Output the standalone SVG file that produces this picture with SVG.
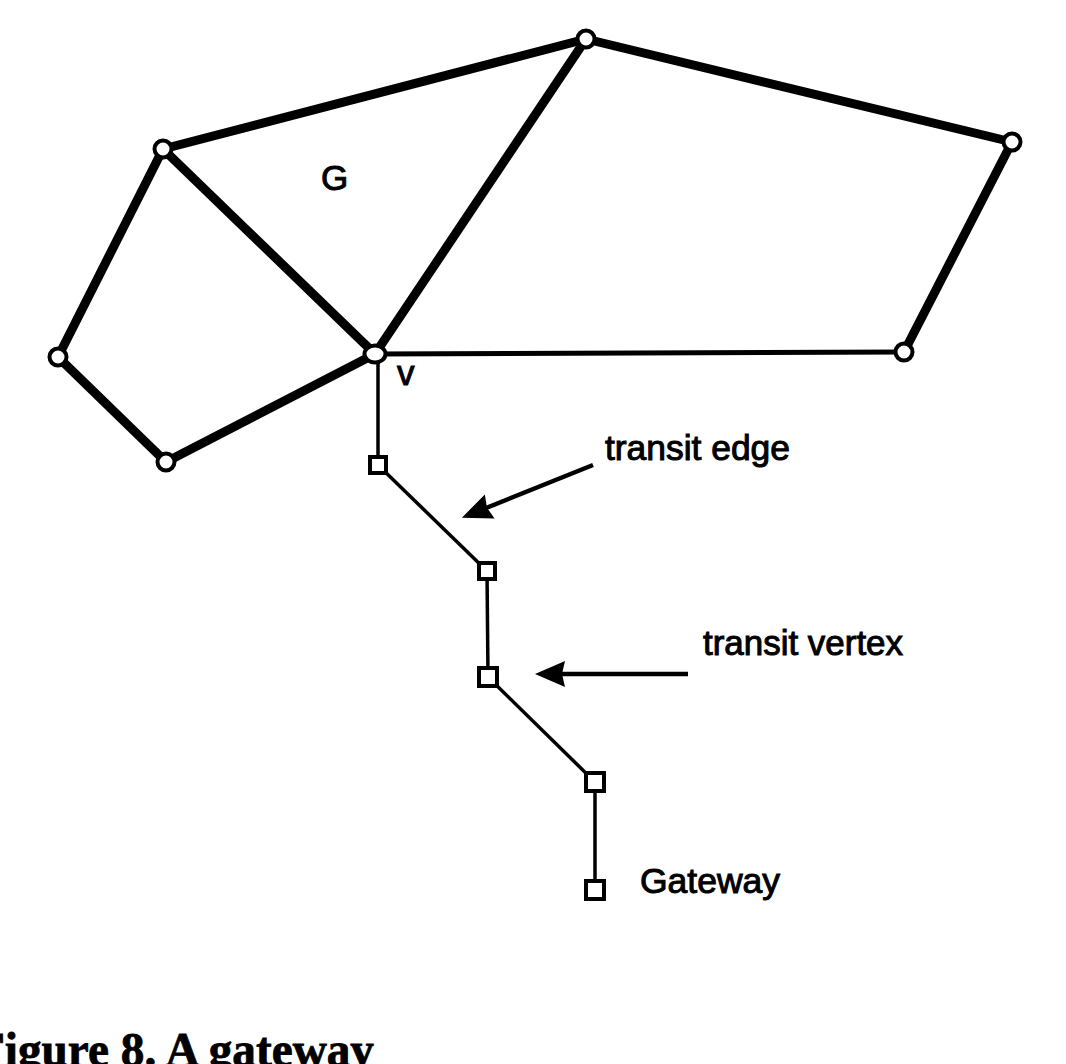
<svg xmlns="http://www.w3.org/2000/svg" width="1066" height="1064" viewBox="0 0 1066 1064">
<style>
.bg{fill:#fff}
.thick{stroke:#000;stroke-width:9;stroke-linecap:round;fill:none}
.med{stroke:#000;stroke-width:5;stroke-linecap:round;fill:none}
.thin{stroke:#000;stroke-width:3.5;fill:none}
.arrow{stroke:#000;stroke-width:4.5;fill:none}
.vtx{fill:#fff;stroke:#000;stroke-width:4}
.sq{fill:#fff;stroke:#000;stroke-width:4}
.lbl{font-family:"Liberation Sans",Arial,sans-serif;font-size:35px;fill:#000;stroke:#000;stroke-width:1}
.cap{font-family:"Liberation Serif","Times New Roman",serif;font-size:48px;font-weight:bold;fill:#000;stroke:#000;stroke-width:0.8}
</style>
<defs>
<marker id="head" markerUnits="userSpaceOnUse" markerWidth="34" markerHeight="28" refX="4" refY="13" orient="auto" viewBox="0 0 34 28">
<path d="M0,0 L30,13 L0,26 L3,13 z" fill="#000"/>
</marker>
</defs>
<rect class="bg" x="0" y="0" width="1066" height="1064"/>
<g id="connectors">
<line class="thick" x1="586" y1="39" x2="163" y2="149"/>
<line class="thick" x1="586" y1="39" x2="1012" y2="142"/>
<line class="thick" x1="586" y1="39" x2="375" y2="354"/>
<line class="thick" x1="163" y1="149" x2="375" y2="354"/>
<line class="thick" x1="163" y1="149" x2="58" y2="357"/>
<line class="thick" x1="58" y1="357" x2="166" y2="462"/>
<line class="thick" x1="166" y1="462" x2="375" y2="354"/>
<line class="thick" x1="1012" y1="142" x2="904" y2="352"/>
<line class="med" x1="375" y1="354" x2="904" y2="352"/>
<line class="thin" x1="378" y1="360" x2="378" y2="465"/>
<line class="thin" x1="378" y1="465" x2="487" y2="571"/>
<line class="thin" x1="487" y1="571" x2="488" y2="677"/>
<line class="thin" x1="488" y1="677" x2="595" y2="782"/>
<line class="thin" x1="595" y1="782" x2="595" y2="890"/>
<line class="arrow" x1="593" y1="465" x2="486" y2="508" marker-end="url(#head)"/>
<line class="arrow" x1="688" y1="674" x2="561" y2="674" marker-end="url(#head)"/>
</g>
<g id="nA"><circle class="vtx" cx="586" cy="39" r="8.5"/></g>
<g id="nB"><circle class="vtx" cx="163" cy="149" r="8.5"/></g>
<g id="nC"><circle class="vtx" cx="1012" cy="142" r="8.5"/></g>
<g id="nD"><circle class="vtx" cx="58" cy="357" r="8.5"/></g>
<g id="nF"><circle class="vtx" cx="904" cy="352" r="8.5"/></g>
<g id="nH"><circle class="vtx" cx="166" cy="462" r="8.5"/></g>
<g id="nV"><ellipse class="vtx" cx="375" cy="354" rx="10.5" ry="8.5"/><text class="lbl" x="397" y="385">v</text></g>
<g id="s1"><rect class="sq" x="370" y="457" width="16" height="16"/></g>
<g id="s2"><rect class="sq" x="479" y="563" width="16" height="16"/></g>
<g id="s3"><rect class="sq" x="479" y="668" width="18" height="18"/></g>
<g id="s4"><rect class="sq" x="586" y="773" width="18" height="18"/></g>
<g id="s5"><rect class="sq" x="586" y="881" width="18" height="18"/><text class="lbl" x="640" y="893" textLength="140" lengthAdjust="spacingAndGlyphs">Gateway</text></g>
<g id="labels">
<text class="lbl" x="321" y="190" font-size="38">G</text>
<text class="lbl" x="605" y="460" textLength="185" lengthAdjust="spacingAndGlyphs">transit edge</text>
<text class="lbl" x="703" y="655" textLength="200" lengthAdjust="spacingAndGlyphs">transit vertex</text>
<text class="cap" x="-24" y="1066" textLength="398" lengthAdjust="spacingAndGlyphs">Figure 8. A gateway</text>
</g>
</svg>
